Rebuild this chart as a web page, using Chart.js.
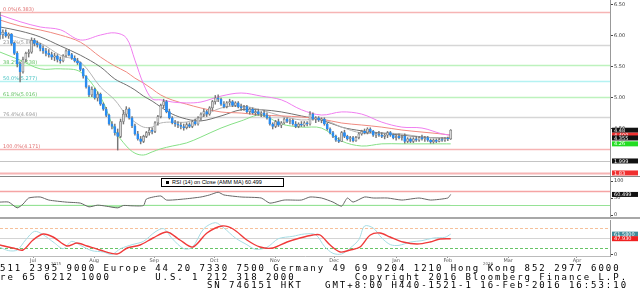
<!DOCTYPE html>
<html>
<head>
<meta charset="utf-8">
<script src="https://cdn.jsdelivr.net/npm/chart.js@4.4.0/dist/chart.umd.min.js"></script>
<style>
body{margin:0;background:#fff;width:640px;height:293px;overflow:hidden;position:relative}
canvas{position:absolute;left:0}
.sep{position:absolute;left:0;width:640px;background:#a8a8a8}
#leg{position:absolute;left:161px;top:178px;width:111px;height:7px;border:1px solid #000;background:#fff;
 font:5.5px "Liberation Sans";line-height:7px;padding-left:10px;color:#000;white-space:nowrap}
#leg i{position:absolute;left:4px;top:2px;width:3px;height:3px;background:#000}
#foot{position:absolute;left:0;top:264px;font:9px "DejaVu Sans Mono";letter-spacing:1.97px;line-height:8.6px;white-space:pre;color:#000}
</style>
</head>
<body>
<canvas id="price" width="640" height="157" style="top:0"></canvas>
<canvas id="mid" width="640" height="20" style="top:157px"></canvas>
<div class="sep" style="top:176px;height:1px;background:#888"></div>
<canvas id="rsi" width="640" height="41" style="top:177px"></canvas>
<div class="sep" style="top:217px;height:2px"></div>
<canvas id="stoch" width="640" height="45" style="top:220px"></canvas>
<div id="leg"><i></i><span id="legText"></span></div>
<div id="foot">511 2395 9000 Europe 44 20 7330 7500 Germany 49 69 9204 1210 Hong Kong 852 2977 6000
re 65 6212 1000      U.S. 1 212 318 2000        Copyright 2016 Bloomberg Finance L.P.
                            SN 746151 HKT   GMT+8:00 H440-1521-1 16-Feb-2016 16:53:10</div>
<script>
// trading-day axis: 0 = late Jun 2015, 157 = 16 Feb 2016
var xMax = 212.5;
var monthLabels = ['Jul', 'Aug', 'Sep', 'Oct', 'Nov', 'Dec', 'Jan', 'Feb', 'Mar', 'Apr'];
var monthPos = [11.5, 32.8, 53.7, 74.6, 95.8, 116.4, 138, 156, 177, 201];
var yearLabels = ['2015', '2016'];
var yearPos = [19.5, 170];

var opens = [6.30,6.02,6.06,6.00,6.03,5.88,5.72,5.55,5.42,5.62,
 5.72,5.74,5.93,5.88,5.86,5.80,5.76,5.72,5.70,5.66,
 5.68,5.62,5.60,5.68,5.76,5.70,5.64,5.60,5.57,5.46,
 5.35,5.18,5.05,5.14,5.00,5.06,4.90,4.82,4.72,4.58,
 4.54,4.44,4.38,4.62,4.74,4.82,4.68,4.55,4.42,4.34,
 4.30,4.38,4.44,4.48,4.46,4.60,4.70,4.88,4.94,4.78,
 4.68,4.60,4.58,4.56,4.54,4.52,4.57,4.54,4.62,4.58,
 4.68,4.74,4.78,4.74,4.84,4.94,5.00,4.98,4.90,4.86,
 4.92,4.94,4.88,4.92,4.86,4.84,4.86,4.78,4.82,4.76,
 4.78,4.74,4.76,4.72,4.68,4.58,4.54,4.62,4.56,4.60,
 4.66,4.62,4.64,4.58,4.54,4.58,4.56,4.60,4.58,4.74,
 4.66,4.68,4.64,4.66,4.58,4.50,4.44,4.38,4.32,4.30,
 4.44,4.38,4.34,4.36,4.31,4.36,4.42,4.46,4.44,4.50,
 4.46,4.40,4.42,4.40,4.38,4.40,4.44,4.40,4.36,4.38,
 4.36,4.38,4.30,4.34,4.30,4.34,4.32,4.36,4.34,4.36,
 4.32,4.29,4.32,4.30,4.33,4.32,4.35,4.34];
var highs = [6.38,6.10,6.10,6.05,6.04,5.90,5.75,5.58,5.66,5.74,
 5.78,5.97,5.96,5.92,5.88,5.84,5.80,5.78,5.74,5.72,
 5.70,5.66,5.70,5.78,5.78,5.72,5.68,5.64,5.58,5.48,
 5.36,5.20,5.18,5.16,5.10,5.08,4.92,4.85,4.74,4.62,
 4.58,4.50,4.66,4.80,4.86,4.84,4.70,4.58,4.46,4.38,
 4.40,4.46,4.52,4.52,4.62,4.72,4.90,4.98,4.96,4.82,
 4.70,4.64,4.62,4.60,4.58,4.60,4.60,4.64,4.66,4.70,
 4.76,4.82,4.80,4.86,4.96,5.04,5.05,5.00,4.94,4.94,
 4.98,4.96,4.94,4.94,4.90,4.88,4.88,4.84,4.84,4.80,
 4.82,4.78,4.80,4.76,4.70,4.60,4.64,4.66,4.62,4.68,
 4.68,4.66,4.66,4.62,4.60,4.62,4.62,4.62,4.78,4.76,
 4.70,4.70,4.68,4.68,4.60,4.52,4.46,4.40,4.36,4.46,
 4.48,4.40,4.38,4.38,4.38,4.44,4.48,4.50,4.52,4.52,
 4.48,4.44,4.46,4.44,4.42,4.46,4.46,4.42,4.40,4.42,
 4.40,4.42,4.36,4.36,4.36,4.38,4.38,4.40,4.38,4.38,
 4.34,4.34,4.34,4.35,4.36,4.36,4.37,4.49];
var lows = [5.95,5.96,5.98,5.96,5.85,5.70,5.50,5.26,5.40,5.58,
 5.66,5.72,5.84,5.82,5.76,5.72,5.68,5.66,5.62,5.60,
 5.58,5.56,5.58,5.66,5.68,5.62,5.58,5.54,5.44,5.32,
 5.16,5.02,5.02,4.98,4.95,4.88,4.80,4.70,4.56,4.50,
 4.40,4.16,4.36,4.58,4.70,4.66,4.52,4.40,4.32,4.26,
 4.28,4.36,4.40,4.42,4.44,4.56,4.68,4.84,4.76,4.66,
 4.58,4.54,4.52,4.50,4.48,4.50,4.52,4.52,4.56,4.56,
 4.64,4.70,4.70,4.72,4.80,4.90,4.94,4.88,4.84,4.84,
 4.88,4.86,4.86,4.84,4.80,4.80,4.76,4.74,4.74,4.72,
 4.72,4.70,4.70,4.66,4.56,4.50,4.52,4.54,4.52,4.58,
 4.60,4.58,4.56,4.52,4.52,4.54,4.54,4.55,4.56,4.64,
 4.60,4.62,4.60,4.56,4.48,4.42,4.36,4.30,4.28,4.30,
 4.36,4.32,4.30,4.29,4.30,4.34,4.40,4.42,4.42,4.44,
 4.38,4.36,4.38,4.36,4.34,4.36,4.38,4.34,4.32,4.34,
 4.32,4.27,4.28,4.28,4.28,4.30,4.30,4.32,4.30,4.30,
 4.27,4.27,4.28,4.29,4.30,4.30,4.31,4.33];
var closes = [6.02,6.06,6.00,6.03,5.88,5.72,5.55,5.42,5.62,5.72,
 5.74,5.93,5.88,5.86,5.80,5.76,5.72,5.70,5.66,5.68,
 5.62,5.60,5.68,5.76,5.70,5.64,5.60,5.57,5.46,5.35,
 5.18,5.05,5.14,5.00,5.06,4.90,4.82,4.72,4.58,4.54,
 4.44,4.38,4.62,4.74,4.82,4.68,4.55,4.42,4.34,4.30,
 4.38,4.44,4.48,4.46,4.60,4.70,4.88,4.94,4.78,4.68,
 4.60,4.58,4.56,4.54,4.52,4.57,4.54,4.62,4.58,4.68,
 4.74,4.78,4.74,4.84,4.94,5.00,4.98,4.90,4.86,4.92,
 4.94,4.88,4.92,4.86,4.84,4.86,4.78,4.82,4.76,4.78,
 4.74,4.76,4.72,4.68,4.58,4.54,4.62,4.56,4.60,4.66,
 4.62,4.64,4.58,4.54,4.58,4.56,4.60,4.58,4.74,4.66,
 4.68,4.64,4.66,4.58,4.50,4.44,4.38,4.32,4.30,4.44,
 4.38,4.34,4.36,4.31,4.36,4.42,4.46,4.44,4.50,4.46,
 4.40,4.42,4.40,4.38,4.40,4.44,4.40,4.36,4.38,4.36,
 4.38,4.30,4.34,4.30,4.34,4.32,4.36,4.34,4.36,4.32,
 4.29,4.32,4.30,4.33,4.32,4.35,4.34,4.48];

// studies read at sample days
var ovX = [0,7,14,21,28,35,40,44,47,50,53,56,60,65,70,77,84,91,98,105,112,119,126,133,140,147,154,157];
var upperBand = [6.34,6.23,6.145,6.10,5.935,6.015,6.05,5.97,5.61,5.225,4.985,4.97,4.935,4.92,4.935,5.03,5.08,5.03,4.97,4.81,4.725,4.775,4.74,4.61,4.53,4.515,4.42,4.40];
var lowerBand = [5.74,5.61,5.47,5.47,5.42,5.02,4.48,4.225,4.11,4.08,4.13,4.18,4.225,4.275,4.37,4.515,4.63,4.725,4.58,4.53,4.515,4.305,4.225,4.26,4.26,4.26,4.26,4.26];
var maSlow = [6.145,6.08,5.985,5.84,5.69,5.50,5.306,5.21,5.13,5.03,4.95,4.855,4.74,4.66,4.63,4.71,4.81,4.81,4.775,4.71,4.645,4.53,4.47,4.435,4.40,4.37,4.355,4.355];
var maFast = [6.064,5.967,5.886,5.69,5.58,5.177,4.967,4.725,4.612,4.53,4.53,4.596,4.612,4.612,4.693,4.838,4.87,4.806,4.71,4.645,4.66,4.53,4.435,4.435,4.42,4.37,4.355,4.37];
var maLong = [6.257,6.16,6.096,6.015,5.90,5.66,5.515,5.42,5.32,5.24,5.145,5.048,4.967,4.90,4.838,4.774,4.757,4.725,4.71,4.693,4.66,4.596,4.564,4.53,4.483,4.45,4.419,4.40];

var fibLevels = [6.383, 5.861, 5.538, 5.277, 5.016, 4.694, 4.171];
var fibNames = ['0.0%', '23.6%', '38.2%', '50.0%', '61.8%', '76.4%', '100.0%'];
var priceTicks = [6.5, 6.0, 5.5, 5.0, 4.5];

var midLevels = [1.999, 1.83];

var rsiX = [0,3,6,8,10,14,17,23,28,31,34,37,41,43,46,50,51,56,58,64,70,73,76,78,84,91,94,99,105,108,112,116,119,121,123,127,130,135,140,146,150,156,157];
var rsiVals = [38,38,21,32,50,53,44,38,35,24,29,26,21,28,27,28,47,56,44,47,53,59,67,59,53,50,35,44,44,53,50,38,26,50,38,53,50,50,44,50,44,50,60.499];

var kX = [0,3,6,9,12,15,19,22,25,28,32,36,39,42,46,50,54,57,60,64,67,71,75,78,82,86,89,93,97,102,106,110,113,116,119,122,125,127,130,133,136,139,143,147,151,155,157];
var kVals = [22,12,14,45,70,60,35,18,40,28,12,8,1,18,30,40,68,78,48,18,22,78,96,80,50,30,16,22,48,55,62,60,25,4,2,20,45,86,80,50,30,28,38,42,50,52,61.58];
var dX = [0,4.5,8,11.5,15,18.5,23.3,26.8,30.3,34.8,40.8,44.3,48.8,53.3,58.2,62.7,67.2,72.1,77.4,81.2,86,90.6,95.1,100,104.5,109,111.5,115,118.5,122,125.4,129,132.4,135.9,140.4,145.3,149.8,153.3,157];
var dVals = [29,20,14,44,62,53,26,35,26,14,2,20,29,50,68,44,23,65,86,77,44,23,20,38,50,59,59,29,8,14,23,59,65,53,38,32,38,47,47.93];

Chart.defaults.font.family = 'DejaVu Sans';
Chart.defaults.animation = false;

function pts(xs, ys) { return ys.map(function (v, i) { return {x: xs[i], y: v}; }); }
function line(xs, ys, color, w, extra) {
  var d = {type: 'line', data: pts(xs, ys), borderColor: color, borderWidth: w, pointRadius: 0, tension: 0.35, fill: false, order: 2};
  for (var k in extra) d[k] = extra[k];
  return d;
}

var panelLines = {
  id: 'panelLines',
  beforeDatasetsDraw: function (chart, args, opts) {
    var ctx = chart.ctx, a = chart.chartArea, y = chart.scales.y;
    (opts.lines || []).forEach(function (l) {
      var py = Math.round(y.getPixelForValue(l.v)) + 0.5;
      ctx.save();
      ctx.strokeStyle = l.c; ctx.lineWidth = l.w || 1; ctx.setLineDash(l.dash || []);
      ctx.beginPath(); ctx.moveTo(a.left, py); ctx.lineTo(a.right, py); ctx.stroke();
      if (l.label) {
        ctx.fillStyle = l.tc; ctx.font = '5px "DejaVu Sans"'; ctx.textBaseline = 'bottom';
        ctx.fillText(l.label, a.left + 3, py - 0.5);
      }
      ctx.restore();
    });
  },
  afterDraw: function (chart, args, opts) {
    var ctx = chart.ctx, a = chart.chartArea, y = chart.scales.y;
    (opts.boxes || []).forEach(function (b) {
      var py = y.getPixelForValue(b.v);
      ctx.save();
      ctx.fillStyle = b.bg; ctx.fillRect(a.right + 2, py - 2.5, 26, 5);
      ctx.fillStyle = '#fff'; ctx.font = '5px "DejaVu Sans"'; ctx.textBaseline = 'middle';
      ctx.fillText(b.text, a.right + 4, py + 0.3);
      ctx.restore();
    });
    if (opts.years) {
      var x = chart.scales.x;
      ctx.save();
      ctx.fillStyle = '#666'; ctx.font = '4px "DejaVu Sans"'; ctx.textAlign = 'center'; ctx.textBaseline = 'top';
      yearLabels.forEach(function (t, i) { ctx.fillText(t, x.getPixelForValue(yearPos[i]), a.bottom + 5.5); });
      ctx.restore();
    }
  }
};
Chart.register(panelLines);

function xScale(show) {
  return {
    type: 'linear', min: 0, max: xMax, offset: false, display: show,
    grid: {display: show, drawOnChartArea: false, drawTicks: true, tickLength: 2, color: '#999'},
    border: {display: show, color: '#bbb'},
    afterBuildTicks: function (s) { s.ticks = monthPos.map(function (v) { return {value: v}; }); },
    afterFit: function (s) { s.height = show ? 9 : 0; s.paddingLeft = 0; s.paddingRight = 0; },
    ticks: {autoSkip: false, maxRotation: 0, padding: 0, color: '#555', font: {size: 5},
      callback: function (v, i) { return monthLabels[i]; }}
  };
}
function yScale(min, max, ticks, fmt) {
  return {
    position: 'right', min: min, max: max,
    afterFit: function (s) { s.width = 30; s.paddingTop = 0; s.paddingBottom = 0; },
    afterBuildTicks: function (s) { s.ticks = ticks.map(function (v) { return {value: v}; }); },
    grid: {display: true, drawOnChartArea: false, drawTicks: true, tickLength: 3, color: '#444'},
    border: {display: true, color: '#999'},
    ticks: {font: {size: 5}, color: '#333', padding: 1, callback: fmt}
  };
}
function baseOpts(xs, ys, plug) {
  return {
    responsive: false, animation: false,
    layout: {padding: 0},
    plugins: {legend: {display: false}, tooltip: {enabled: false}, panelLines: plug},
    scales: {x: xs, y: ys}
  };
}

// price panel
var up = function (c) { return closes[c.dataIndex] >= opens[c.dataIndex]; };
var fibColors = ['#f6b4b4', '#d6d6d6', '#bdf2bd', '#b4f2f2', '#bdf2bd', '#d6d6d6', '#f6b4b4'];
var fibText = ['#e07070', '#9a9a9a', '#5fbf5f', '#3fbfbf', '#5fbf5f', '#9a9a9a', '#e07070'];
var last = ovX.length - 1;
new Chart(document.getElementById('price'), {
  type: 'bar',
  data: {datasets: [
    {data: closes.map(function (c, i) { return {x: i, y: [opens[i], c]}; }), grouped: false, barThickness: 2.2,
      backgroundColor: function (c) { return up(c) ? '#d8d8d8' : '#2a8cf0'; },
      borderColor: function (c) { return up(c) ? '#7a7a7a' : '#2a8cf0'; },
      borderWidth: 0.7, borderSkipped: false, order: 0},
    {data: highs.map(function (h, i) { return {x: i, y: [lows[i], h]}; }), grouped: false, barThickness: 0.8,
      backgroundColor: '#777', order: 1},
    line(ovX, upperBand, '#f07ef0', 1),
    line(ovX, lowerBand, '#86e086', 1),
    line(ovX, maLong, '#f08a80', 1),
    line(ovX, maFast, '#b4b4b4', 1),
    line(ovX, maSlow, '#707070', 1)
  ]},
  options: baseOpts(xScale(false), yScale(4.048, 6.58, priceTicks, function (v) { return v.toFixed(2); }), {
    lines: fibLevels.map(function (v, i) {
      return {v: v, c: fibColors[i], w: 1.5, tc: fibText[i], label: fibNames[i] + '(' + v.toFixed(3) + ')'};
    }),
    boxes: [
      {v: closes[closes.length - 1], text: closes[closes.length - 1].toFixed(2), bg: '#111'},
      {v: maLong[last], text: maLong[last].toFixed(3), bg: '#f03030'},
      {v: maSlow[last], text: maSlow[last].toFixed(3), bg: '#111'},
      {v: lowerBand[last], text: lowerBand[last].toFixed(2), bg: '#22dd22'}
    ]
  })
});

// middle panel
new Chart(document.getElementById('mid'), {
  type: 'line',
  data: {datasets: []},
  options: baseOpts(xScale(false), yScale(1.773, 2.055, [], function (v) { return ''; }), {
    lines: [{v: midLevels[0], c: '#c4c4c4', w: 1}, {v: midLevels[1], c: '#f6b4b4', w: 2}],
    boxes: [{v: midLevels[0], text: midLevels[0].toFixed(3), bg: '#111'},
            {v: midLevels[1], text: midLevels[1].toFixed(2), bg: '#f03030'}]
  })
});

// RSI panel
new Chart(document.getElementById('rsi'), {
  type: 'line',
  data: {datasets: [
    line(rsiX, rsiVals, '#666', 1, {tension: 0.2,
      fill: {target: {value: 30}, above: 'rgba(0,0,0,0)', below: '#a6eba6'}})
  ]},
  options: baseOpts(xScale(false), yScale(-8.8, 111.8, [100, 50, 0], function (v) { return String(v); }), {
    lines: [{v: 70, c: '#f5a4a4', w: 1.5}, {v: 30, c: '#96e296', w: 1}],
    boxes: [{v: rsiVals[rsiVals.length - 1], text: rsiVals[rsiVals.length - 1].toFixed(3), bg: '#111'}]
  })
});
document.getElementById('legText').textContent = 'RSI (14) on Close (AMM MA) ' + rsiVals[rsiVals.length - 1].toFixed(3);

// stochastics panel
new Chart(document.getElementById('stoch'), {
  type: 'line',
  data: {datasets: [
    line(kX, kVals, '#a6dce4', 1, {tension: 0.3}),
    line(dX, dVals, '#f03a3a', 1.4, {tension: 0.3, order: 1})
  ]},
  options: baseOpts(xScale(true), yScale(-4, 104, [0], function (v) { return String(v); }), {
    years: true,
    lines: [{v: 80, c: '#f6c09a', w: 1, dash: [3, 2]}, {v: 50, c: '#d4d4d4', w: 1}, {v: 20, c: '#66c466', w: 1, dash: [3, 2]}],
    boxes: [{v: kVals[kVals.length - 1], text: kVals[kVals.length - 1].toFixed(4), bg: '#3f8a98'},
            {v: dVals[dVals.length - 1], text: dVals[dVals.length - 1].toFixed(3), bg: '#f02020'}]
  })
});
</script>
</body>
</html>
